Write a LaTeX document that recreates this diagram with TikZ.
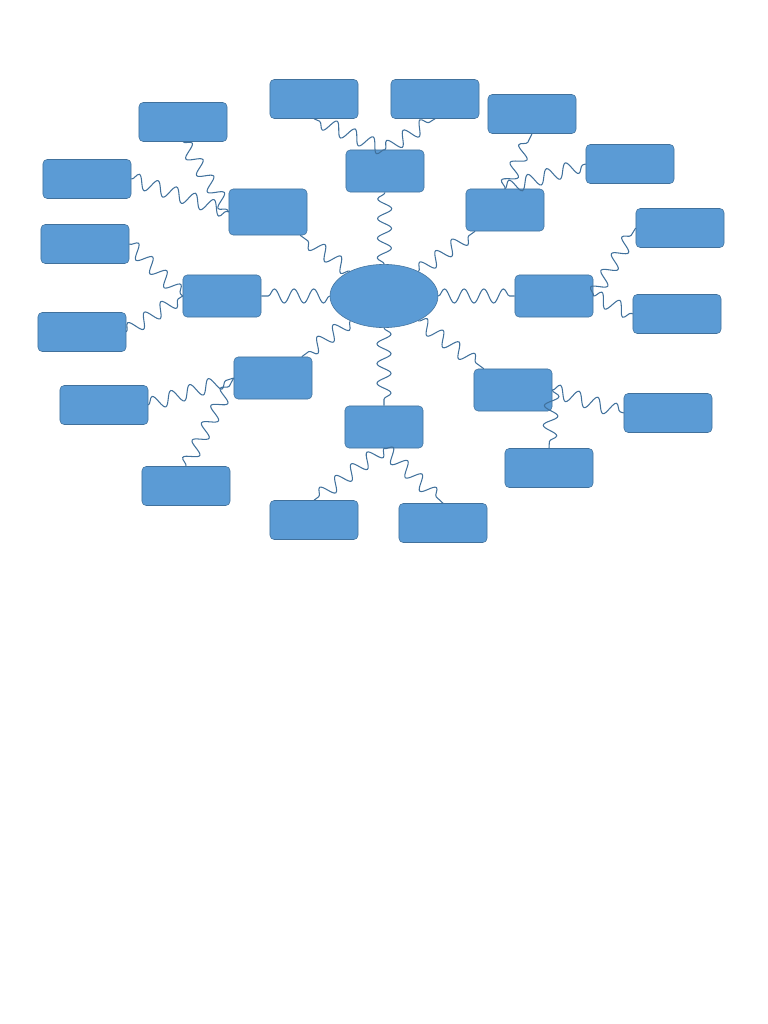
\documentclass[tikz,border=0pt]{standalone}
\usetikzlibrary{decorations.pathmorphing,shapes.geometric}
\definecolor{boxfill}{HTML}{5B9BD5}
\definecolor{boxline}{HTML}{41719C}
\begin{document}
\begin{tikzpicture}[x=0.025cm,y=-0.025cm,
    inner/.style={draw=boxline,fill=boxfill,rounded corners=3pt,minimum width=1.95cm,minimum height=1.05cm},
    outer/.style={draw=boxline,fill=boxfill,rounded corners=3pt,minimum width=2.2cm,minimum height=0.975cm},
    wave/.style={draw=boxline,line width=0.75pt,decorate,decoration={snake,amplitude=5pt,segment length=14pt}}]
    % page
    \useasboundingbox (0,0) rectangle (768,1024);

    % middle
    \node[draw=boxline,fill=boxfill,ellipse,minimum width=2.7cm,minimum height=1.58cm] (hub) at (384,296) {};

    % first ring
    \node[inner] (t)  at (385,171) {};
    \node[inner,minimum height=1.15cm] (ul) at (268,212) {};
    \node[inner] (ur) at (505,210) {};
    \node[inner] (l)  at (222,296) {};
    \node[inner] (r)  at (554,296) {};
    \node[inner] (ll) at (273,378) {};
    \node[inner] (b)  at (384,427) {};
    \node[inner] (lr) at (513,390) {};

    % second ring
    \node[outer] (t1)  at (314,99) {};
    \node[outer] (t2)  at (435,99) {};
    \node[outer] (ur1) at (532,114) {};
    \node[outer] (ur2) at (630,164) {};
    \node[outer] (ul1) at (183,122) {};
    \node[outer] (ul2) at (87,179) {};
    \node[outer] (l1)  at (85,244) {};
    \node[outer] (l2)  at (82,332) {};
    \node[outer] (r1)  at (680,228) {};
    \node[outer] (r2)  at (677,314) {};
    \node[outer] (ll1) at (104,405) {};
    \node[outer] (ll2) at (186,486) {};
    \node[outer] (lr1) at (668,413) {};
    \node[outer] (lr2) at (549,468) {};
    \node[outer] (b1)  at (314,520) {};
    \node[outer] (b2)  at (443,523) {};

    % waves from the middle
    \foreach \n in {t,ul,ur,l,r,ll,b,lr}
        \draw[wave] (hub) -- (\n);

    % waves to the second ring
    \draw[wave] (t.north) -- (t1.south);
    \draw[wave] (t.north) -- (t2.south);
    \draw[wave] (ul1.south) -- (ul.west);
    \draw[wave] (ul2.east) -- (ul.west);
    \draw[wave] (ur.north) -- (ur1.south);
    \draw[wave] (ur.north) -- (ur2.west);
    \draw[wave] (l1.east) -- (l.west);
    \draw[wave] (l2.east) -- (l.west);
    \draw[wave] (r.east) -- (r1.west);
    \draw[wave] (r.east) -- (r2.west);
    \draw[wave] (ll1.east) -- (ll.west);
    \draw[wave] (ll2.north) -- (ll.west);
    \draw[wave] (lr.east) -- (lr1.west);
    \draw[wave] (lr.east) -- (lr2.north);
    \draw[wave] (b.south) -- (b1.north);
    \draw[wave] (b.south) -- (b2.north);
\end{tikzpicture}
\end{document}
